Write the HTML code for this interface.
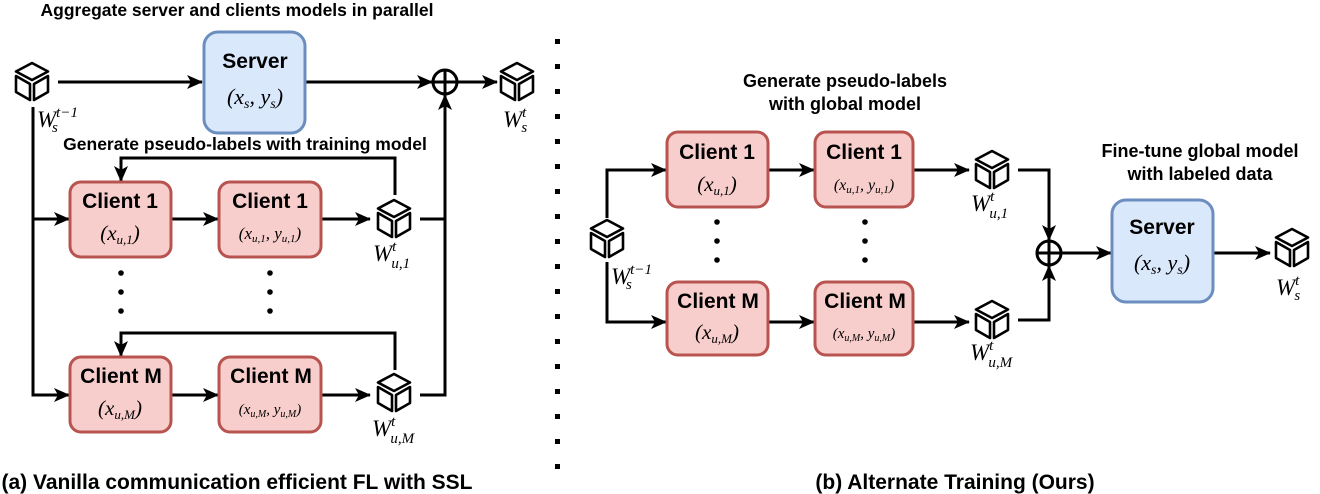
<!DOCTYPE html>
<html><head><meta charset="utf-8"><style>
html,body{margin:0;padding:0;background:#fff;}
svg{display:block;}
.t{font-family:"Liberation Sans",Arial,sans-serif;font-weight:bold;fill:#000;}
.m{font-family:"Liberation Serif","DejaVu Serif",serif;font-style:italic;fill:#000;}
</style></head><body>
<svg width="1320" height="494" viewBox="0 0 1320 494" xmlns="http://www.w3.org/2000/svg">
<defs>
<marker id="a" markerWidth="16" markerHeight="14" refX="15" refY="7" orient="auto" markerUnits="userSpaceOnUse">
<path d="M0,0 L16,7 L0,14 L4,7 z" fill="#000"/></marker>
<g id="cube" fill="none" stroke="#000" stroke-width="2.6" stroke-linejoin="round">
<path d="M17,1 L33,9.5 L17,18 L1,9.5 z"/>
<path d="M1,14 L15,22 L15,38 L1,30 z"/>
<path d="M33,14 L19,22 L19,38 L33,30 z"/>
</g>
</defs>
<g fill="none" stroke="#000" stroke-width="3">
<!-- LEFT PANEL -->
<line x1="58" y1="82" x2="202" y2="82" marker-end="url(#a)"/>
<line x1="306" y1="82" x2="432" y2="82" marker-end="url(#a)"/>
<line x1="457" y1="82" x2="497" y2="82" marker-end="url(#a)"/>
<polyline points="33,107 33,395 69,395" marker-end="url(#a)"/>
<line x1="33" y1="219" x2="69" y2="219" marker-end="url(#a)"/>
<line x1="171" y1="219" x2="218" y2="219" marker-end="url(#a)"/>
<line x1="321" y1="219" x2="370" y2="219" marker-end="url(#a)"/>
<line x1="171" y1="395" x2="218" y2="395" marker-end="url(#a)"/>
<line x1="321" y1="395" x2="370" y2="395" marker-end="url(#a)"/>
<polyline points="395,195 395,158 121,158 121,181" marker-end="url(#a)"/>
<polyline points="395,370 395,333 121,333 121,356" marker-end="url(#a)"/>
<polyline points="420,219 445,219"/>
<polyline points="420,395 445,395 445,95" marker-end="url(#a)"/>
<circle cx="445" cy="82" r="12"/>
<line x1="433" y1="82" x2="457" y2="82"/>
<line x1="445" y1="70" x2="445" y2="94"/>
<!-- RIGHT PANEL -->
<polyline points="607,218 607,170 666,170" marker-end="url(#a)"/>
<polyline points="607,262 607,322 666,322" marker-end="url(#a)"/>
<line x1="768" y1="170" x2="814" y2="170" marker-end="url(#a)"/>
<line x1="768" y1="322" x2="814" y2="322" marker-end="url(#a)"/>
<line x1="913" y1="170" x2="969" y2="170" marker-end="url(#a)"/>
<line x1="913" y1="322" x2="969" y2="322" marker-end="url(#a)"/>
<polyline points="1018,170 1049,170 1049,240" marker-end="url(#a)"/>
<polyline points="1018,320 1049,320 1049,266" marker-end="url(#a)"/>
<circle cx="1049" cy="253" r="12"/>
<line x1="1037" y1="253" x2="1061" y2="253"/>
<line x1="1049" y1="241" x2="1049" y2="265"/>
<line x1="1061" y1="253" x2="1111" y2="253" marker-end="url(#a)"/>
<line x1="1213" y1="253" x2="1270" y2="253" marker-end="url(#a)"/>
</g>
<!-- boxes -->
<g stroke-width="3">
<rect x="204" y="32" width="101" height="101" rx="14" fill="#dae8fc" stroke="#6c8ebf"/>
<rect x="70" y="182" width="101" height="75" rx="11" fill="#f8cecc" stroke="#b85450"/>
<rect x="219" y="182" width="102" height="75" rx="11" fill="#f8cecc" stroke="#b85450"/>
<rect x="70" y="357" width="101" height="75" rx="11" fill="#f8cecc" stroke="#b85450"/>
<rect x="219" y="357" width="102" height="75" rx="11" fill="#f8cecc" stroke="#b85450"/>
<rect x="667" y="132" width="101" height="75" rx="11" fill="#f8cecc" stroke="#b85450"/>
<rect x="815" y="132" width="98" height="75" rx="11" fill="#f8cecc" stroke="#b85450"/>
<rect x="667" y="282" width="101" height="73" rx="11" fill="#f8cecc" stroke="#b85450"/>
<rect x="815" y="282" width="98" height="73" rx="11" fill="#f8cecc" stroke="#b85450"/>
<rect x="1112" y="200" width="101" height="102" rx="14" fill="#dae8fc" stroke="#6c8ebf"/>
</g>
<!-- cubes -->
<use href="#cube" x="15" y="62"/>
<use href="#cube" x="500" y="62"/>
<use href="#cube" x="377" y="199"/>
<use href="#cube" x="377" y="373"/>
<use href="#cube" x="590" y="219"/>
<use href="#cube" x="975" y="150"/>
<use href="#cube" x="975" y="300"/>
<use href="#cube" x="1275" y="228"/>
<!-- dots -->
<g fill="#000">
<circle cx="121" cy="273" r="2.8"/><circle cx="121" cy="292" r="2.8"/><circle cx="121" cy="311" r="2.8"/>
<circle cx="270" cy="273" r="2.8"/><circle cx="270" cy="292" r="2.8"/><circle cx="270" cy="311" r="2.8"/>
<circle cx="717" cy="222" r="2.8"/><circle cx="717" cy="241" r="2.8"/><circle cx="717" cy="260" r="2.8"/>
<circle cx="865" cy="222" r="2.8"/><circle cx="865" cy="241" r="2.8"/><circle cx="865" cy="260" r="2.8"/>
</g>
<!-- separator -->
<g fill="#000">
<rect x="555" y="39" width="5" height="5"/><rect x="555" y="64" width="5" height="5"/><rect x="555" y="89" width="5" height="5"/><rect x="555" y="114" width="5" height="5"/><rect x="555" y="139" width="5" height="5"/><rect x="555" y="164" width="5" height="5"/><rect x="555" y="189" width="5" height="5"/><rect x="555" y="214" width="5" height="5"/><rect x="555" y="239" width="5" height="5"/><rect x="555" y="264" width="5" height="5"/><rect x="555" y="289" width="5" height="5"/><rect x="555" y="314" width="5" height="5"/><rect x="555" y="339" width="5" height="5"/><rect x="555" y="364" width="5" height="5"/><rect x="555" y="389" width="5" height="5"/><rect x="555" y="414" width="5" height="5"/><rect x="555" y="439" width="5" height="5"/><rect x="555" y="464" width="5" height="5"/>
</g>
<!-- text -->
<text class="t" x="237" y="16" font-size="17.5" text-anchor="middle">Aggregate server and clients models in parallel</text>
<text class="t" x="245" y="150" font-size="17.5" text-anchor="middle">Generate pseudo-labels with training model</text>
<text class="t" x="255" y="68" font-size="21" text-anchor="middle">Server</text>
<text class="m" x="255" y="104" font-size="22" text-anchor="middle">(x<tspan font-size="14" dy="4">s</tspan><tspan dy="-4">, y</tspan><tspan font-size="14" dy="4">s</tspan><tspan dy="-4">)</tspan></text>
<text class="t" x="120" y="208" font-size="21" text-anchor="middle">Client 1</text>
<text class="m" x="120" y="240" font-size="21" text-anchor="middle">(x<tspan font-size="13" dy="4">u,1</tspan><tspan dy="-4">)</tspan></text>
<text class="t" x="270" y="208" font-size="21" text-anchor="middle">Client 1</text>
<text class="m" x="270" y="239" font-size="17" text-anchor="middle">(x<tspan font-size="11" dy="3">u,1</tspan><tspan dy="-3">, y</tspan><tspan font-size="11" dy="3">u,1</tspan><tspan dy="-3">)</tspan></text>
<text class="t" x="121" y="383" font-size="21" text-anchor="middle">Client M</text>
<text class="m" x="120" y="415" font-size="21" text-anchor="middle">(x<tspan font-size="13" dy="4">u,M</tspan><tspan dy="-4">)</tspan></text>
<text class="t" x="271" y="383" font-size="21" text-anchor="middle">Client M</text>
<text class="m" x="270" y="414" font-size="15" text-anchor="middle">(x<tspan font-size="10" dy="3">u,M</tspan><tspan dy="-3">, y</tspan><tspan font-size="10" dy="3">u,M</tspan><tspan dy="-3">)</tspan></text>
<text class="m" x="37" y="127" font-size="23">W<tspan font-size="15" dy="-10">t−1</tspan><tspan font-size="15" dx="-26" dy="15">s</tspan></text>
<text class="m" x="503" y="127" font-size="23">W<tspan font-size="15" dy="-10">t</tspan><tspan font-size="15" dx="-5" dy="15">s</tspan></text>
<text class="m" x="373" y="261" font-size="23">W<tspan font-size="15" dy="-10">t</tspan><tspan font-size="15" dx="-5" dy="17">u,1</tspan></text>
<text class="m" x="372" y="436" font-size="23">W<tspan font-size="15" dy="-10">t</tspan><tspan font-size="15" dx="-5" dy="17">u,M</tspan></text>
<text class="t" x="237" y="489" font-size="21" text-anchor="middle">(a) Vanilla communication efficient FL with SSL</text>

<text class="t" x="845" y="87" font-size="18" text-anchor="middle">Generate pseudo-labels</text>
<text class="t" x="845" y="110" font-size="18" text-anchor="middle">with global model</text>
<text class="t" x="1200" y="157" font-size="18" text-anchor="middle">Fine-tune global model</text>
<text class="t" x="1200" y="180" font-size="18" text-anchor="middle">with labeled data</text>
<text class="t" x="717" y="159" font-size="21" text-anchor="middle">Client 1</text>
<text class="m" x="717" y="191" font-size="21" text-anchor="middle">(x<tspan font-size="13" dy="4">u,1</tspan><tspan dy="-4">)</tspan></text>
<text class="t" x="864" y="159" font-size="21" text-anchor="middle">Client 1</text>
<text class="m" x="864" y="190" font-size="16" text-anchor="middle">(x<tspan font-size="11" dy="3">u,1</tspan><tspan dy="-3">, y</tspan><tspan font-size="11" dy="3">u,1</tspan><tspan dy="-3">)</tspan></text>
<text class="t" x="718" y="308" font-size="21" text-anchor="middle">Client M</text>
<text class="m" x="717" y="339" font-size="21" text-anchor="middle">(x<tspan font-size="13" dy="4">u,M</tspan><tspan dy="-4">)</tspan></text>
<text class="t" x="865" y="308" font-size="21" text-anchor="middle">Client M</text>
<text class="m" x="864" y="338" font-size="15" text-anchor="middle">(x<tspan font-size="10" dy="3">u,M</tspan><tspan dy="-3">, y</tspan><tspan font-size="10" dy="3">u,M</tspan><tspan dy="-3">)</tspan></text>
<text class="t" x="1162" y="234" font-size="21" text-anchor="middle">Server</text>
<text class="m" x="1162" y="270" font-size="22" text-anchor="middle">(x<tspan font-size="14" dy="4">s</tspan><tspan dy="-4">, y</tspan><tspan font-size="14" dy="4">s</tspan><tspan dy="-4">)</tspan></text>
<text class="m" x="611" y="284" font-size="23">W<tspan font-size="15" dy="-10">t−1</tspan><tspan font-size="15" dx="-26" dy="15">s</tspan></text>
<text class="m" x="1276" y="295" font-size="23">W<tspan font-size="15" dy="-10">t</tspan><tspan font-size="15" dx="-5" dy="15">s</tspan></text>
<text class="m" x="971" y="211" font-size="23">W<tspan font-size="15" dy="-10">t</tspan><tspan font-size="15" dx="-5" dy="17">u,1</tspan></text>
<text class="m" x="970" y="360" font-size="23">W<tspan font-size="15" dy="-10">t</tspan><tspan font-size="15" dx="-5" dy="17">u,M</tspan></text>
<text class="t" x="955" y="489" font-size="21" text-anchor="middle">(b) Alternate Training (Ours)</text>
</svg>
</body></html>
